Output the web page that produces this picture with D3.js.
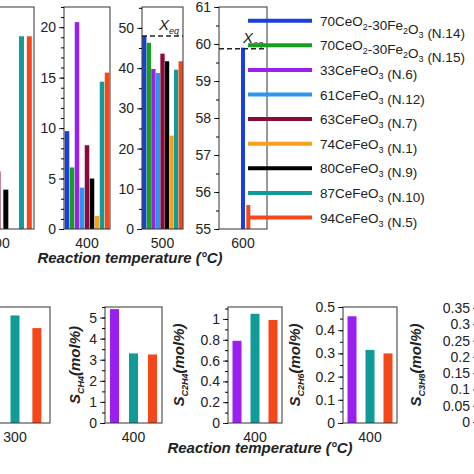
<!DOCTYPE html><html><head><meta charset="utf-8"><script src="https://cdn.jsdelivr.net/npm/d3@7"></script>
<style>body{margin:0;background:#fff}svg{font-family:"Liberation Sans",Arial,sans-serif}</style></head><body><svg id="c" width="474" height="474"></svg>
<script>
const seriesNames=["70CeO₂-30Fe₂O₃ (N.14)","70CeO₂-30Fe₂O₃ (N.15)","33CeFeO₃ (N.6)","61CeFeO₃ (N.12)","63CeFeO₃ (N.7)","74CeFeO₃ (N.1)","80CeFeO₃ (N.9)","87CeFeO₃ (N.10)","94CeFeO₃ (N.5)"];
const seriesColors=["#1a3fe0","#16a01e","#9b1ff0","#2a96f0","#8a0a3a","#f5a21a","#000000","#119b98","#f5481a"];
const drawOrder=[0,1,2,3,4,6,5,7,8];
const conv300=[null,null,20.0,3.7,5.7,null,3.9,19.1,19.1];
const conv400=[9.7,6.1,20.5,4.1,8.3,1.3,5.0,14.6,15.5];
const conv500=[48,46.3,39.8,38.8,43.6,23.2,41.7,39.6,41.7];
const conv600=[59.9,null,null,null,null,null,null,null,55.65];
const xeq500=48, xeq600=59.87;
const selSeries=[2,7,8];
const sel300=[null,5.1,4.5];
const selCH4=[5.4,3.3,3.25];
const selC2H4=[0.79,1.05,0.99];
const selC2H6=[0.46,0.315,0.30];
const svg=d3.select("#c");
function panel(o){
  const g=svg.append("g");
  const y=d3.scaleLinear().domain(o.dom).range([o.y1,o.y0]);
  const x=d3.scaleBand().domain(o.keys).range([o.x0,o.x1]).paddingInner(o.pi||0).paddingOuter(o.po||0);
  o.vals.forEach((v,i)=>{ if(v==null)return; const k=o.keys[i];
    g.append("rect").attr("x",x(k)+(x.bandwidth()-o.bw)/2).attr("width",o.bw).attr("y",y(v)).attr("height",y(o.dom[0])-y(v)).attr("fill",o.colors[i]);});
  g.append("rect").attr("x",o.x0).attr("y",o.y0).attr("width",o.x1-o.x0).attr("height",o.y1-o.y0).attr("fill","none").attr("stroke","#333").attr("stroke-width",1);
  const ax=g.append("g").attr("transform",`translate(${o.x0},0)`).call(d3.axisLeft(y).tickValues(o.ticks).tickFormat(o.fmt||d3.format("")).tickSize(5).tickSizeOuter(0));
  ax.select(".domain").remove(); ax.selectAll("text").attr("font-size",o.fs||14).attr("fill","#222");
  ax.selectAll("line").attr("stroke","#333");
  if(o.minor) g.append("g").attr("transform",`translate(${o.x0},0)`).call(d3.axisLeft(y).tickValues(o.minor).tickFormat("").tickSize(3)).select(".domain").remove();
  if(o.xlab) g.append("text").attr("x",(o.x0+o.x1)/2).attr("y",o.y1+19).attr("text-anchor","middle").attr("font-size",14).attr("fill","#222").text(o.xlab);
  if(o.xeq!=null){g.append("line").attr("x1",o.x0).attr("x2",o.x1).attr("y1",y(o.xeq)).attr("y2",y(o.xeq)).attr("stroke","#222").attr("stroke-width",1.5).attr("stroke-dasharray","5,3");
    const t=g.append("text").attr("x",o.x1-4).attr("y",y(o.xeq)-6).attr("text-anchor","end").attr("font-size",15).attr("font-style","italic").attr("fill","#222");
    t.append("tspan").text("X"); t.append("tspan").attr("font-size",9).attr("dy",4).text("eq");}
  if(o.ylab){const t=g.append("text").attr("transform",`translate(${o.ylx},${(o.y0+o.y1)/2}) rotate(-90)`).attr("text-anchor","middle").attr("font-size",15).attr("font-weight","bold").attr("font-style","italic").attr("fill","#222");
    t.append("tspan").text("S"); t.append("tspan").attr("font-size",9).attr("dy",4).text(o.ylab); t.append("tspan").attr("dy",-4).text("(mol%)");}
  return y;
}
const ordered=(arr)=>drawOrder.map(i=>arr[i]);
const topCols=drawOrder.map(i=>seriesColors[i]);
const keys=drawOrder.map(String);
const rng=(a,b,s)=>d3.range(a,b+1e-9,s);
panel({x0:-38,x1:34,y0:7,y1:229,dom:[0,22],keys,vals:ordered(conv300),colors:topCols,bw:5,ticks:[],xlab:"300",po:0.1});
panel({x0:64,x1:110,y0:7,y1:229,dom:[0,22],keys,vals:ordered(conv400),colors:topCols,bw:4.5,ticks:rng(0,20,5),minor:rng(0,22,1),xlab:"400",po:0.1});
panel({x0:142,x1:183,y0:7,y1:229,dom:[0,55.2],keys,vals:ordered(conv500),colors:topCols,bw:4.3,ticks:rng(0,50,10),minor:rng(0,55,5),xlab:"500",po:0,xeq:xeq500});
panel({x0:219,x1:267,y0:7,y1:229,dom:[55,61],keys:["a","b","c","d","0","8","e","f","g"],vals:[null,null,null,null,conv600[0],conv600[8],null,null,null],colors:[0,0,0,0,seriesColors[0],seriesColors[8],0,0,0],bw:4,ticks:rng(55,61,1),minor:rng(55,61,0.5),xlab:"600",pi:0,po:0,xeq:xeq600});
svg.append("text").attr("x",130).attr("y",263).attr("text-anchor","middle").attr("font-size",15).attr("font-weight","bold").attr("font-style","italic").attr("fill","#222").text("Reaction temperature (°C)");
const lg=svg.append("g");
seriesNames.forEach((n,i)=>{const yy=20.7+i*24.6;
  lg.append("line").attr("x1",248).attr("x2",312).attr("y1",yy).attr("y2",yy).attr("stroke",seriesColors[i]).attr("stroke-width",4);
  const m=n.match(/^(.*?)( \(N.*)$/);
  const t=lg.append("text").attr("x",320).attr("y",yy+5).attr("font-size",13.5).attr("fill","#222");
  m[1].split(/([₂₃])/).forEach(s=>{ if(s==="₂"||s==="₃"){t.append("tspan").attr("font-size",9).attr("dy",4).text(s==="₂"?"2":"3");t.append("tspan").attr("dy",-4).text("");} else if(s) t.append("tspan").text(s);});
  t.append("tspan").text(m[2]);
});
const sk=selSeries.map(String), sc=selSeries.map(i=>seriesColors[i]);
panel({x0:-20,x1:50,y0:307,y1:423,dom:[0,5.5],keys:sk,vals:sel300,colors:sc,bw:9,ticks:[],xlab:"300",po:0.1});
panel({x0:105,x1:162,y0:307,y1:423,dom:[0,5.5],keys:sk,vals:selCH4,colors:sc,bw:9,ticks:rng(0,5,1),minor:rng(0,5.5,0.5),xlab:"400",ylab:"CH4",ylx:80,po:0});
panel({x0:228,x1:282,y0:307,y1:423,dom:[0,1.115],keys:sk,vals:selC2H4,colors:sc,bw:9,ticks:rng(0,1,0.2),minor:rng(0,1.1,0.1),fmt:d3.format("~g"),xlab:"400",ylab:"C2H4",ylx:184,po:0});
panel({x0:343,x1:397,y0:307,y1:423,dom:[0,0.5],keys:sk,vals:selC2H6,colors:sc,bw:9,ticks:rng(0,0.5,0.1),minor:rng(0,0.5,0.05),fmt:d3.format("~g"),xlab:"400",ylab:"C2H6",ylx:300,po:0});
panel({x0:478,x1:520,y0:308,y1:422,dom:[0,0.35],keys:sk,vals:[null,null,null],colors:sc,bw:9,ticks:rng(0,0.35,0.05),fmt:d3.format("~g"),ylab:"C3H8",ylx:421,po:0});
svg.append("text").attr("x",260).attr("y",453).attr("text-anchor","middle").attr("font-size",15).attr("font-weight","bold").attr("font-style","italic").attr("fill","#222").text("Reaction temperature (°C)");
</script></body></html>
